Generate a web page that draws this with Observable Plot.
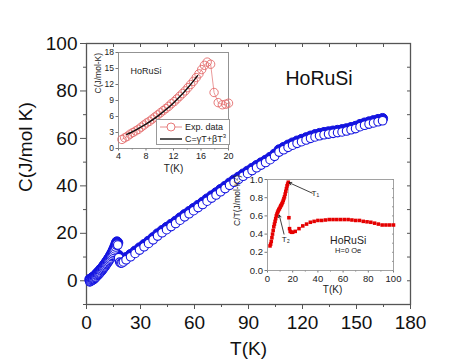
<!DOCTYPE html>
<html><head><meta charset="utf-8">
<script src="https://cdn.jsdelivr.net/npm/d3@7"></script>
<script src="https://cdn.jsdelivr.net/npm/@observablehq/plot@0.6"></script>
<style>
body{margin:0;background:#fff;}
#wrap{position:relative;width:474px;height:363px;font-family:"Liberation Sans",Arial,sans-serif;overflow:hidden;}
#wrap svg{position:absolute;overflow:visible;}
#legend{position:absolute;left:156px;top:119px;width:72px;height:24px;border:0.8px solid #999;background:#fff;font-size:9px;color:#222;}
#legend .row{position:absolute;left:2px;height:11px;display:flex;align-items:center;white-space:nowrap;}
#legend svg{position:static;margin-right:2px;}
</style></head><body><div id="wrap"></div>
<script>
// ---------- main data: C (J/mol K) vs T (K) ----------
const mainT = [1.8,2.2,2.6,3.0,3.4,3.8,4.2,4.6,5.0,5.4,5.8,6.2,6.6,7.0,7.4,7.8,8.2,8.6,9.0,9.4,9.8,10.2,10.6,11.0,11.4,11.8,12.2,12.6,13.0,13.4,13.8,14.2,14.6,15.0,15.4,15.8,16.2,16.6,16.9,17.4,17.9,18.5,19.1,19.7,
  20.5,22,24.5,27,29.5,32,34.5,37,39.5,42,44.5,47,49.5,52,54.5,57,59.5,62,64.5,67,69.5,72,74.5,77,79.5,82,84.5,87,89.5,92,94.5,97,99.5,102,104.5,107,109.5,112,114.5,117,119.5,122,124.5,127,129.5,132,134.5,137,139.5,142,144.5,147,149.5,152,154.5,157,159.5,162,164.5];
const mainC = [0.3,0.5,0.7,0.9,1.1,1.3,1.5,1.8,2.1,2.4,2.8,3.1,3.4,3.7,4.0,4.4,4.8,5.1,5.5,5.9,6.3,6.7,7.1,7.6,8.0,8.5,8.9,9.4,9.9,10.4,11.0,11.5,12.1,12.8,13.5,14.2,15.0,15.8,16.2,15.8,10.5,8.6,8.2,8.3,
  8.7,9.6,10.9,12.3,13.7,15.1,16.5,18.0,19.6,21.0,22.3,23.6,24.9,26.3,27.7,29.0,30.3,31.6,32.9,34.3,35.6,36.9,38.3,39.6,41.0,42.3,43.5,44.8,46.0,47.2,48.4,49.5,50.6,51.8,53.2,55.0,56.0,57.0,57.9,58.7,59.4,60.1,60.8,61.4,61.9,62.3,62.6,62.9,63.2,63.5,63.9,64.4,64.9,65.7,66.3,66.8,67.3,67.8,68.2];
const mainXTicks = [0,30,60,90,120,150,180];
const mainXMinor = [15,45,75,105,135,165];
const mainYTicks = [0,20,40,60,80,100];
const mainYMinor = [-10,10,30,50,70,90];

// ---------- inset 1: low-T C vs T with fit ----------
const in1T = [4.5,4.9,5.3,5.7,6.1,6.5,6.9,7.3,7.7,8.1,8.5,8.9,9.3,9.7,10.1,10.5,10.9,11.3,11.7,12.1,12.5,12.9,13.3,13.7,14.1,14.5,14.9,15.3,15.7,16.1,16.5,16.9,17.4,17.9,18.5,19.1,19.6,20.0];
const in1C = [1.7,2.0,2.3,2.7,3.0,3.3,3.6,4.0,4.4,4.8,5.1,5.5,5.9,6.3,6.7,7.1,7.5,7.9,8.4,8.8,9.3,9.8,10.3,10.8,11.4,12.0,12.6,13.3,14.0,14.8,15.6,16.2,15.8,10.5,8.6,8.2,8.3,8.5];
const fitT = [5.2,6,7,8,9,10,11,12,13,14,15,15.5];
const fitC = [2.63,3.13,3.82,4.57,5.41,6.35,7.39,8.55,9.84,11.26,12.83,13.66];
const in1XTicks = [4,8,12,16,20];
const in1XMinor = [6,10,14,18];
const in1YTicks = [0,3,6,9,12,15,18];

// ---------- inset 2: C/T vs T ----------
const in2T = [2,2.5,3,3.5,4,4.5,5,5.5,6,6.5,7,7.5,8,8.5,9,9.5,10,10.5,11,11.5,12,12.5,13,13.5,14,14.5,15,15.5,16,16.5,
  17,17.5,18,19,20,22,25,28,31,34,37,40,43,46,49,52,55,58,61,64,67,70,73,76,79,82,85,88,91,94,97,100];
const in2V = [0.27,0.29,0.32,0.36,0.40,0.44,0.48,0.51,0.54,0.57,0.60,0.62,0.64,0.655,0.67,0.68,0.695,0.71,0.72,0.735,0.75,0.77,0.79,0.81,0.84,0.87,0.90,0.93,0.95,0.97,
  0.58,0.46,0.43,0.42,0.42,0.43,0.46,0.49,0.51,0.53,0.54,0.55,0.55,0.555,0.56,0.56,0.56,0.56,0.56,0.56,0.555,0.55,0.55,0.54,0.535,0.53,0.52,0.51,0.50,0.50,0.50,0.50];
const in2XTicks = [0,20,40,60,80,100];
const in2XMinor = [10,30,50,70,90];
const in2YTicks = [0,0.2,0.4,0.6,0.8,1.0];
const in2YMinor = [0.1,0.3,0.5,0.7,0.9];
const arrowNotes = [
  {x1:35.5, y1:0.85, x2:17.2, y2:0.965},
  {x1:13.1, y1:0.40, x2:9.3, y2:0.61}
];
const labelNotes = [
  {x:38, y:0.845, text:"T\u2081", size:8},
  {x:14.5, y:0.34, text:"T\u2082", size:8},
  {x:64, y:0.33, text:"HoRuSi", size:10.5},
  {x:64, y:0.215, text:"H=0 Oe", size:7.5}
];

const font = "Liberation Sans, Arial, sans-serif";
const blue = "#1414e0";
const wrap = document.getElementById("wrap");
const blank = () => "";

const mainData = mainT.map((t,i)=>({T:t, C:mainC[i]}));
const main = Plot.plot({
  width:474, height:363, marginLeft:86, marginRight:64, marginTop:43, marginBottom:59,
  style:{fontFamily:font, background:"transparent", color:"#111", overflow:"visible"},
  x:{domain:[0,180]}, y:{domain:[-10,100]},
  marks:[
    Plot.axisX({ticks:mainXTicks, tickSize:5, tickPadding:6, fontSize:19, label:null, stroke:"#555"}),
    Plot.axisX({ticks:mainXMinor, tickSize:3, tickFormat:blank, label:null, stroke:"#555"}),
    Plot.axisX({anchor:"top", ticks:[0,15,30,45,60,75,90,105,120,135,150,165,180], tickSize:-3, tickFormat:blank, label:null, stroke:"#555"}),
    Plot.axisY({ticks:mainYTicks, tickSize:6, tickPadding:3, fontSize:19, label:null, stroke:"#555"}),
    Plot.axisY({ticks:mainYMinor, tickSize:3, tickFormat:blank, label:null, stroke:"#555"}),
    Plot.axisY({anchor:"right", ticks:[-10,0,10,20,30,40,50,60,70,80,90,100], tickSize:-4, tickFormat:blank, label:null, stroke:"#555"}),
    Plot.frame({stroke:"#555", strokeWidth:1.3}),
    Plot.dot(mainData, {x:"T", y:"C", r:5, dy:-0.5, fill:blue, stroke:blue, strokeWidth:1}),
    Plot.dot(mainData, {x:"T", y:"C", r:4.3, dy:1.8, fill:"white", stroke:blue, strokeWidth:1.1}),
    Plot.text(["HoRuSi"], {frameAnchor:"top-right", text:d=>d, textAnchor:"start", dx:-125, dy:28, fontSize:19.5, fill:"#111"}),
    Plot.text(["T(K)"], {frameAnchor:"bottom", text:d=>d, dy:50, fontSize:19, fill:"#111"}),
    Plot.text(["C(J/mol K)"], {frameAnchor:"left", text:d=>d, rotate:-90, dx:-61, dy:18, fontSize:19, fill:"#111"})
  ]
});
main.style.left="0px"; main.style.top="0px";
wrap.appendChild(main);

// inset 1
const in1Data = in1T.map((t,i)=>({T:t, C:in1C[i]}));
const fitData = fitT.map((t,i)=>({T:t, C:fitC[i]}));
const inset1 = Plot.plot({
  width:145, height:134, marginLeft:28, marginTop:8, marginRight:7, marginBottom:30,
  style:{fontFamily:font, background:"transparent", color:"#222", overflow:"visible"},
  x:{domain:[4,20]}, y:{domain:[0,18]},
  marks:[
    Plot.axisX({ticks:in1XTicks, tickSize:2.5, tickPadding:2, fontSize:9, label:null, stroke:"#777"}),
    Plot.axisX({ticks:in1XMinor, tickSize:1.5, tickFormat:blank, label:null, stroke:"#777"}),
    Plot.axisY({ticks:in1YTicks, tickSize:2.5, tickPadding:2, fontSize:8.5, label:null, stroke:"#777"}),
    Plot.frame({stroke:"#888", strokeWidth:0.9}),
    Plot.line(in1Data, {x:"T", y:"C", stroke:"#e58080", strokeWidth:0.8}),
    Plot.dot(in1Data, {x:"T", y:"C", r:4.2, stroke:"#e36a6a", strokeWidth:0.9, fill:"none"}),
    Plot.line(fitData, {x:"T", y:"C", stroke:"#111", strokeWidth:1.4, curve:"monotone-x"}),
    Plot.text(["HoRuSi"], {frameAnchor:"top-left", text:d=>d, textAnchor:"start", dx:12, dy:15, fontSize:9, fill:"#222"}),
    Plot.text(["T(K)"], {frameAnchor:"bottom", text:d=>d, dy:23, fontSize:10, fill:"#222"}),
    Plot.text(["C(J/mol-K)"], {frameAnchor:"left", text:d=>d, rotate:-90, dx:-20, dy:-7, fontSize:8.5, fill:"#222"})
  ]
});
inset1.style.left="90px"; inset1.style.top="44px";
wrap.appendChild(inset1);

// legend for inset 1
const leg = document.createElement("div");
leg.id = "legend";
leg.innerHTML =
  '<div class="row" style="top:1px"><svg width="24" height="10"><line x1="1" y1="5" x2="23" y2="5" stroke="#e58080" stroke-width="0.9"/><circle cx="12" cy="5" r="4" fill="white" stroke="#e36a6a" stroke-width="0.9"/></svg>Exp. data</div>' +
  '<div class="row" style="top:13px"><svg width="24" height="10"><line x1="1" y1="5" x2="23" y2="5" stroke="#111" stroke-width="1.4"/></svg><span>C=\u03B3T+\u03B2T<sup style="font-size:6px;vertical-align:4px">3</sup></span></div>';
wrap.appendChild(leg);

// inset 2
const in2Data = in2T.map((t,i)=>({T:t, V:in2V[i]}));
const inset2 = Plot.plot({
  width:172, height:130, marginLeft:41, marginTop:9, marginRight:5, marginBottom:30,
  style:{fontFamily:font, background:"transparent", color:"#222", overflow:"visible"},
  x:{domain:[0,100]}, y:{domain:[0,1.0]},
  marks:[
    Plot.axisX({ticks:in2XTicks, tickSize:2.5, tickPadding:2, fontSize:9.5, label:null, stroke:"#777"}),
    Plot.axisX({ticks:in2XMinor, tickSize:1.5, tickFormat:blank, label:null, stroke:"#777"}),
    Plot.axisY({ticks:in2YTicks, tickSize:2.5, tickPadding:2, fontSize:9.5, tickFormat:".1f", label:null, stroke:"#777"}),
    Plot.axisY({anchor:"right", ticks:in2YMinor.concat(in2YTicks), tickSize:-2, tickFormat:blank, label:null, stroke:"#999"}),
    Plot.frame({stroke:"#999", strokeWidth:0.9}),
    Plot.line(in2Data, {x:"T", y:"V", stroke:"#aaa", strokeWidth:0.7}),
    Plot.dot(in2Data, {x:"T", y:"V", r:2, symbol:"square", fill:"#e60000"}),
    Plot.arrow(arrowNotes, {x1:"x1", y1:"y1", x2:"x2", y2:"y2", stroke:"#111", strokeWidth:0.8, headLength:5, bend:0}),
    Plot.text(labelNotes, {x:"x", y:"y", text:"text", fontSize:d=>d.size, fill:"#222"}),
    Plot.text(["T(K)"], {frameAnchor:"bottom", text:d=>d, dx:2, dy:22, fontSize:10, fill:"#222"}),
    Plot.text(["C/T(J/mol-K\u00B2)"], {frameAnchor:"left", text:d=>d, rotate:-90, dx:-30, dy:1, fontSize:8.5, fill:"#222"})
  ]
});
inset2.style.left="226px"; inset2.style.top="170px";
wrap.appendChild(inset2);
</script>
</body></html>
